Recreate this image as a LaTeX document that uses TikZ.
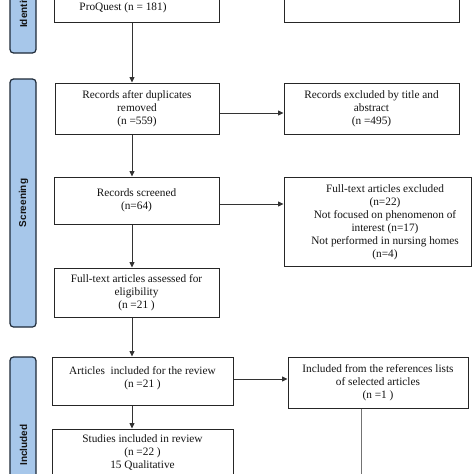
\documentclass[tikz,border=0pt]{standalone}
\usepackage{fontspec}
\setmainfont{Liberation Serif}
\newfontfamily\bandfont{Liberation Sans}
\usetikzlibrary{arrows.meta}
\definecolor{bandfill}{HTML}{A7C7EA}
\definecolor{banddraw}{HTML}{1E2A38}
\definecolor{txt}{HTML}{141414}
\tikzset{
  boxnode/.style={draw=black!85, line width=1pt, fill=white, align=center, inner sep=0pt,
    text=txt, font=\fontsize{11.3}{13}\selectfont},
  txtnode/.style={align=center, inner sep=0pt, text=txt, font=\fontsize{11.3}{13}\selectfont},
  conn/.style={draw=black!80, line width=0.8pt, -{Triangle[length=5.5pt,width=5pt]}},
  plainline/.style={draw=black!55, line width=0.9pt},
  bandbox/.style={draw=banddraw, fill=bandfill, rounded corners=3.5pt, line width=1.2pt},
  bandlabel/.style={rotate=90, inner sep=0pt, text=txt, font=\bandfont\bfseries\fontsize{10}{12}\selectfont}
}
\begin{document}
\begin{tikzpicture}[x=1pt,y=-1pt]
\useasboundingbox (0,0) rectangle (474,474);
\clip (0,0) rectangle (474,474);
\fill[white] (0,0) rectangle (474,474);
% bands
\draw[bandbox] (10,-130) rectangle (36,53);
\draw[bandbox] (10,79) rectangle (36,327);
\draw[bandbox] (10,357) rectangle (36,560);
\node[bandlabel, anchor=west] (lid) at (23.5,28) {Identification};
\node[bandlabel] (lsc) at (23.5,203) {Screening};
\node[bandlabel] (lin) at (23.5,445) {Included};
% coordinates
\coordinate (spine) at (132,0);
\coordinate (ya) at (0,113);
\coordinate (yb) at (0,204);
\coordinate (yc) at (0,379);
\coordinate (rline) at (361,0);
\coordinate (rend) at (0,530);
% boxes
\node[boxnode, minimum width=165, minimum height=62] (b1) at (136.5,-9) {};
\node[txtnode] (b1t) at (123,8) {ProQuest (n = 181)};
\node[boxnode, minimum width=175, minimum height=62] (b2) at (371.5,-9) {};
\node[boxnode, minimum width=164, minimum height=51] (b3) at (137,108.5) {Records after duplicates\\removed\\(n =559)};
\node[boxnode, minimum width=175, minimum height=51] (b4) at (371.5,108.5) {Records excluded by title and\\abstract\\(n =495)};
\node[boxnode, minimum width=165, minimum height=47] (b5) at (136.5,200.5) {Records screened\\(n=64)};
\node[boxnode, minimum width=187, minimum height=89] (b6) at (377.5,221.5) {};
\node[txtnode] (b6t) at (385,222) {Full-text articles excluded\\(n=22)\\Not focused on phenomenon of\\interest (n=17)\\Not performed in nursing homes\\(n=4)};
\node[boxnode, minimum width=165, minimum height=49] (b7) at (136.5,292.5) {Full-text articles assessed for\\eligibility\\(n =21 )};
\node[boxnode, minimum width=181, minimum height=48] (b8) at (142.5,381) {};
\node[txtnode, anchor=north] (b8t) at (142.5,366) {Articles\ \ included for the review\\(n =21 )};
\node[boxnode, minimum width=180, minimum height=51] (b9) at (378,382.5) {Included from the references lists\\of selected articles\\(n =1 )};
\node[boxnode, minimum width=181, minimum height=101] (b10) at (142.5,479.5) {};
\node[txtnode, anchor=north] (b10t) at (142.5,434) {Studies included in review\\(n =22 )\\15 Qualitative};
% connectors
\draw[conn] (b1.south -| spine) -- (b3.north -| spine);
\draw[conn] (b3.east |- ya) -- (b4.west |- ya);
\draw[conn] (b3.south -| spine) -- (b5.north -| spine);
\draw[conn] (b5.east |- yb) -- (b6.west |- yb);
\draw[conn] (b5.south -| spine) -- (b7.north -| spine);
\draw[conn] (b7.south -| spine) -- (b8.north -| spine);
\draw[conn] (b8.east |- yc) -- (b9.west |- yc);
\draw[conn] (b8.south -| spine) -- (b10.north -| spine);
\draw[plainline] (b9.south -| rline) -- (rline |- rend);
\end{tikzpicture}
\end{document}
